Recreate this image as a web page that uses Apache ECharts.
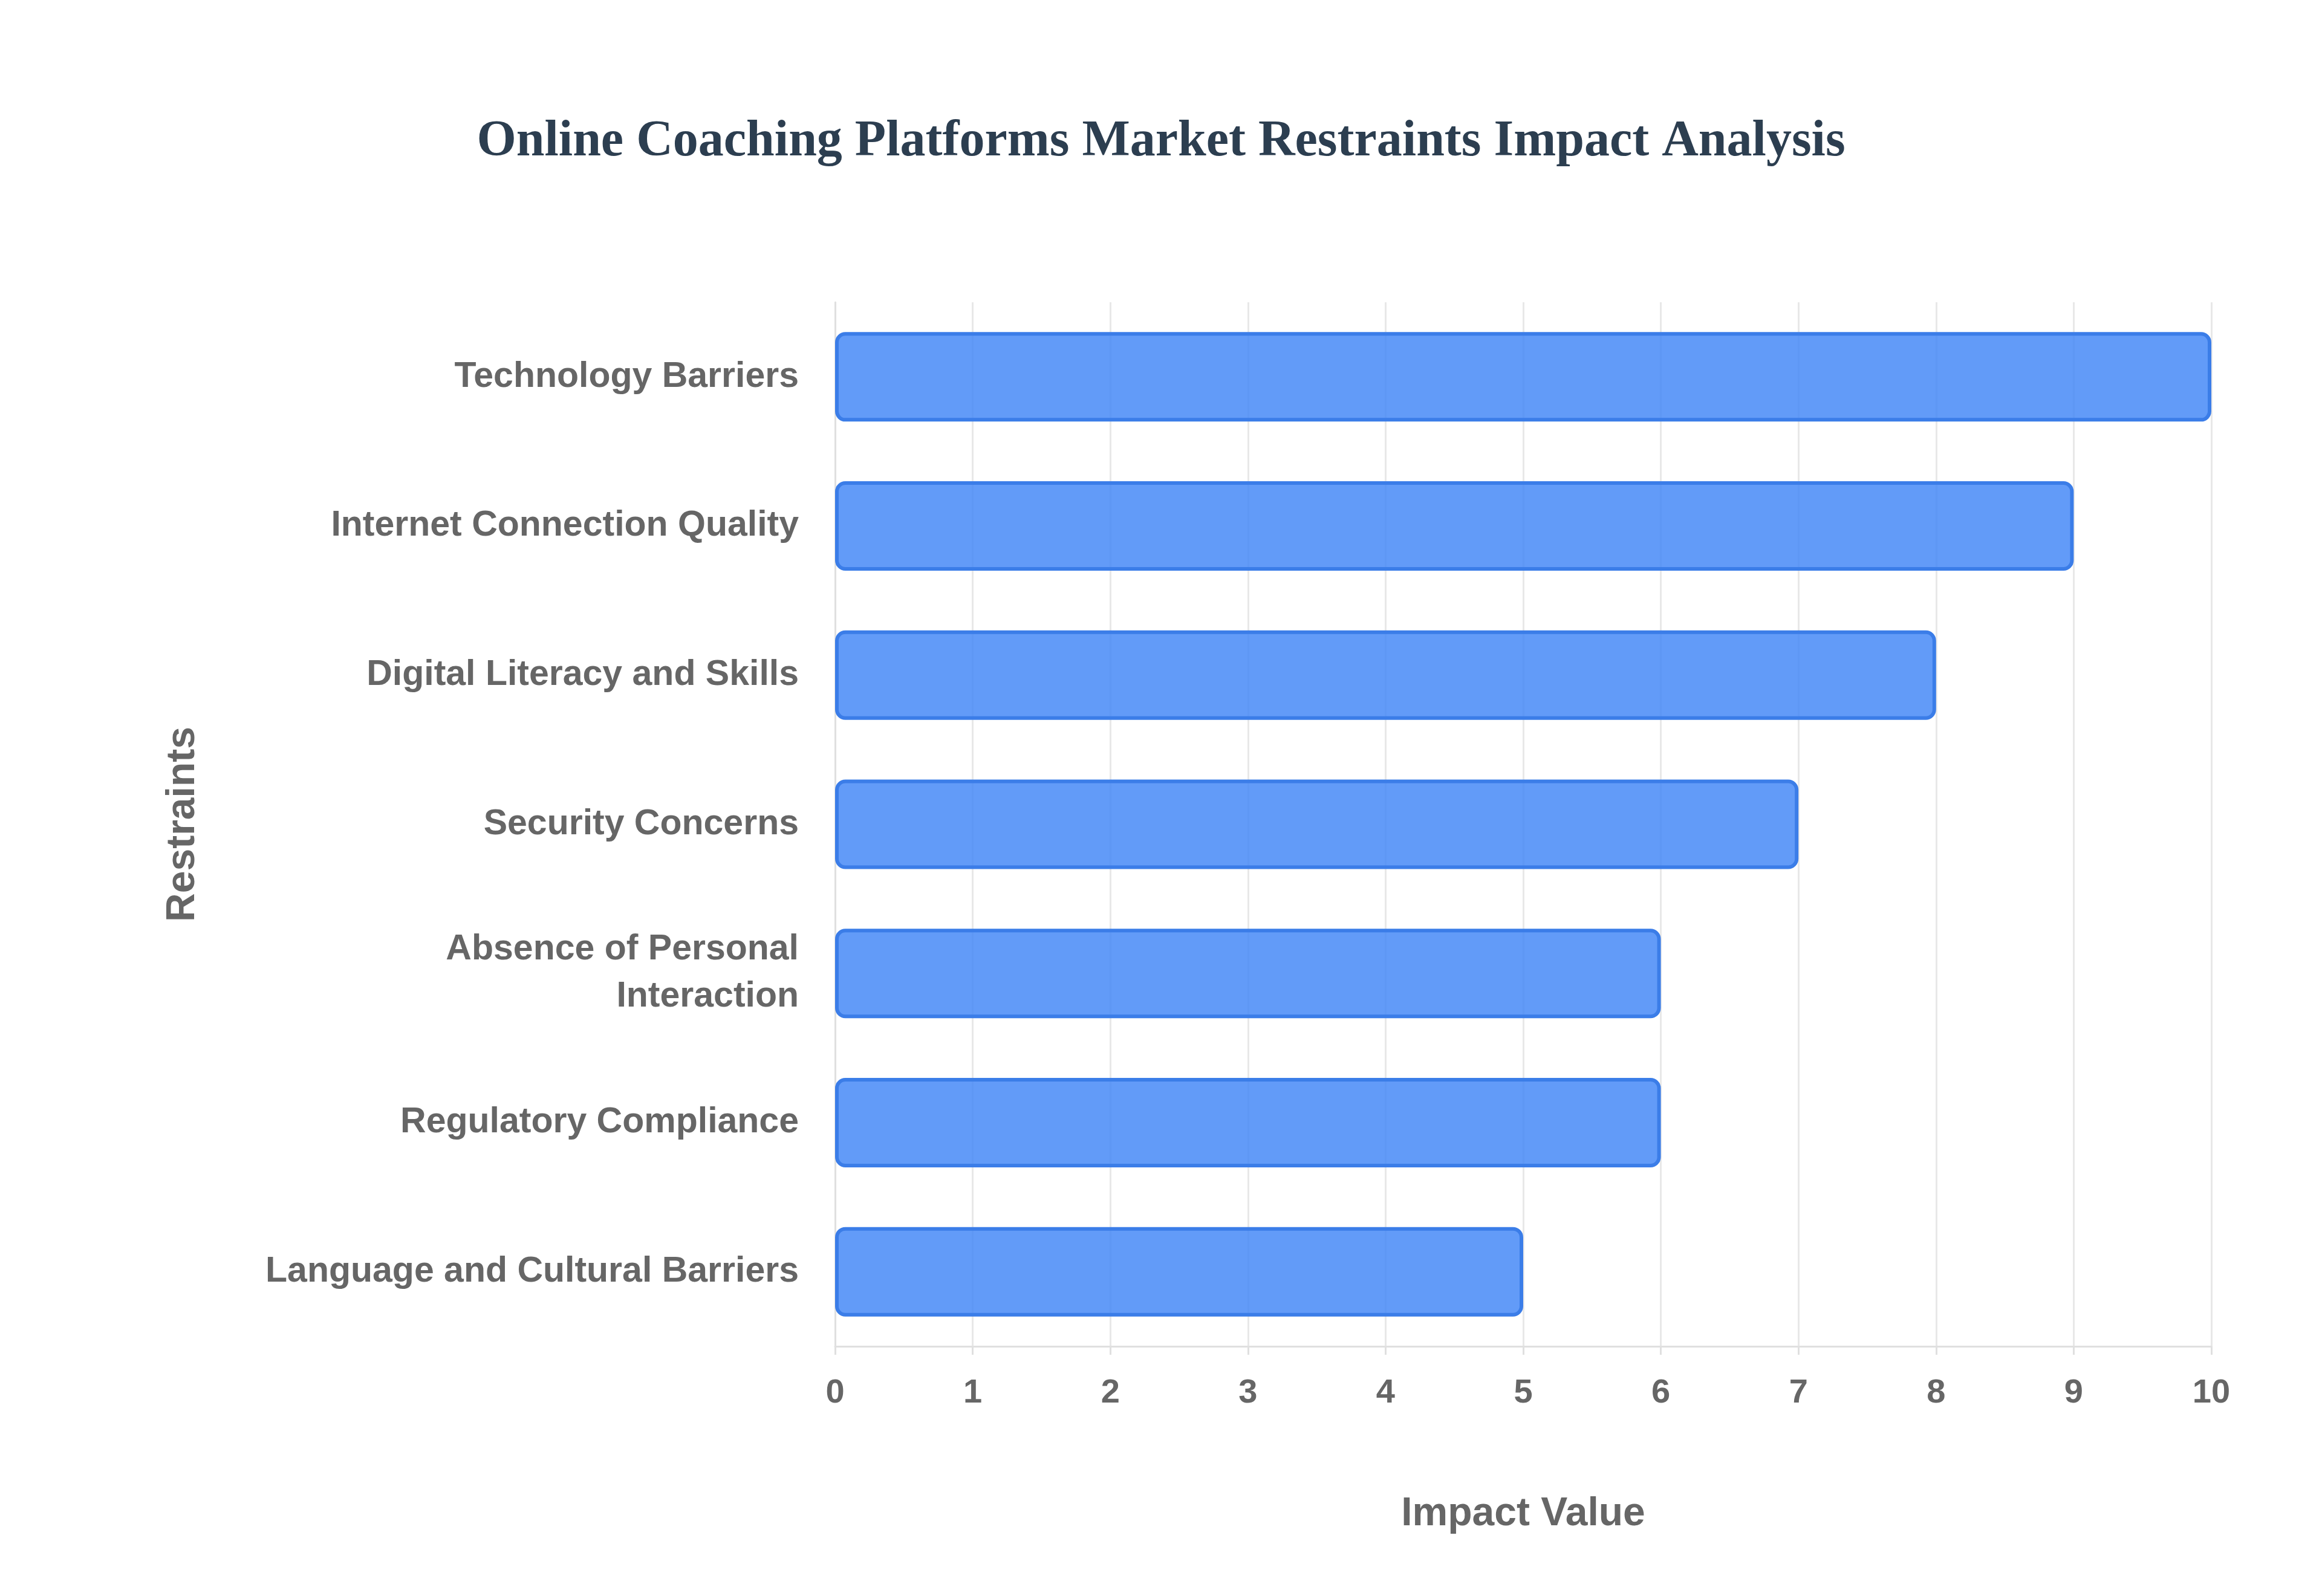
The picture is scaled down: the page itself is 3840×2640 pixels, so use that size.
<!DOCTYPE html>
<html>
<head>
<meta charset="utf-8">
<script src="https://cdn.jsdelivr.net/npm/echarts@6/dist/echarts.min.js"></script>
<style>html,body{margin:0;padding:0;background:#fff}#main{width:3840px;height:2640px}</style>
</head>
<body>
<div id="main"></div>
<script>
// Data (bottom to top order for a horizontal category axis)
const restraints = [
    'Language and Cultural Barriers',
    'Regulatory Compliance',
    'Absence of Personal\nInteraction',
    'Security Concerns',
    'Digital Literacy and Skills',
    'Internet Connection Quality',
    'Technology Barriers'
];
const impactValues = [5, 6, 6, 7, 8, 9, 10];

const chart = echarts.init(document.getElementById('main'));
const labelColor = '#666666';

chart.setOption({
    backgroundColor: '#ffffff',
    title: {
        text: 'Online Coaching Platforms Market Restraints Impact Analysis',
        left: 'center',
        top: 188,
        textStyle: { fontFamily: 'Liberation Serif', fontWeight: 'bold', fontSize: 84, color: '#2c3e50' }
    },
    grid: { left: 1381, right: 183, top: 500, bottom: 413 },
    xAxis: {
        type: 'value',
        min: 0,
        max: 10,
        interval: 1,
        name: 'Impact Value',
        nameLocation: 'middle',
        nameGap: 245,
        nameTextStyle: { fontFamily: 'Liberation Sans', fontWeight: 'bold', fontSize: 66, color: labelColor },
        axisLabel: { fontFamily: 'Liberation Sans', fontWeight: 'bold', fontSize: 56, color: labelColor, margin: 50 },
        axisLine: { show: true, lineStyle: { color: '#e0e0e0', width: 3 } },
        axisTick: { show: true, length: 14, lineStyle: { color: '#e0e0e0', width: 3 } },
        splitLine: { show: true, lineStyle: { color: '#e8e8e8', width: 3 } }
    },
    yAxis: {
        type: 'category',
        data: restraints,
        name: 'Restraints',
        nameLocation: 'middle',
        nameGap: 1045,
        nameRotate: 90,
        nameTextStyle: { fontFamily: 'Liberation Sans', fontWeight: 'bold', fontSize: 66, color: labelColor },
        axisLabel: { fontFamily: 'Liberation Sans', fontWeight: 'bold', fontSize: 59, color: labelColor, margin: 60, lineHeight: 78 },
        axisLine: { show: true, lineStyle: { color: '#e0e0e0', width: 3 } },
        axisTick: { show: false },
        splitLine: { show: false }
    },
    series: [{
        type: 'bar',
        data: impactValues,
        barWidth: '60%',
        itemStyle: {
            color: 'rgba(59,130,246,0.8)',
            borderColor: '#3b7de8',
            borderWidth: 6,
            borderRadius: 14
        }
    }]
});
</script>
</body>
</html>
